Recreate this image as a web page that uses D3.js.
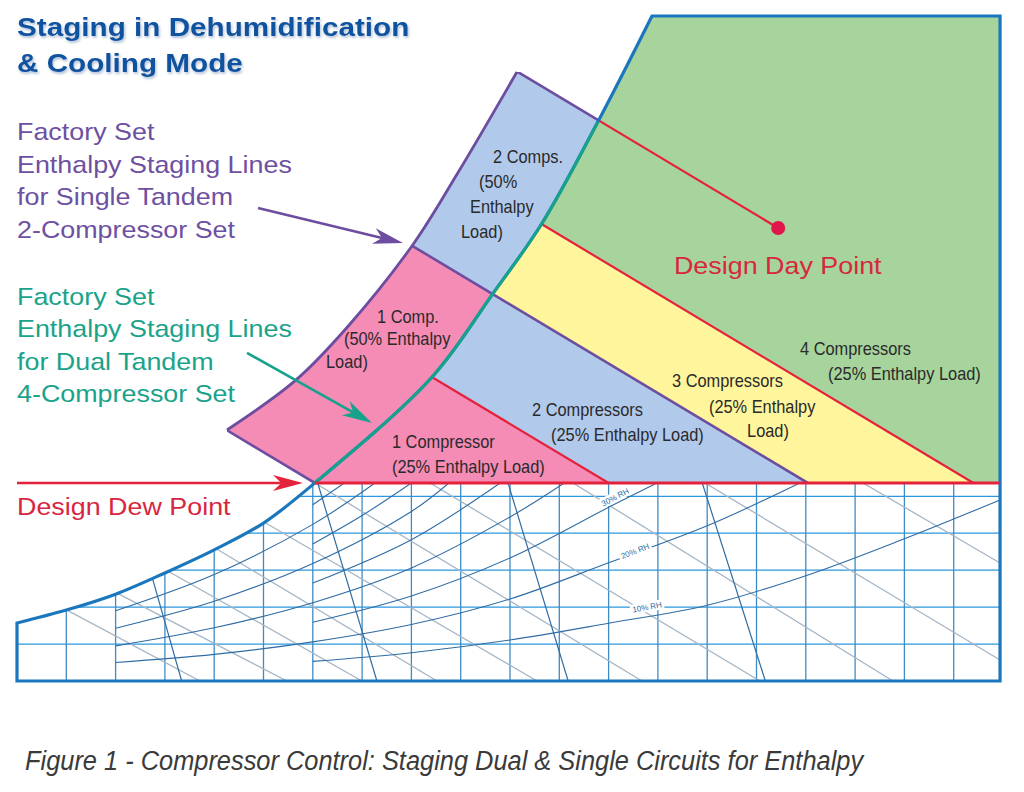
<!DOCTYPE html>
<html>
<head>
<meta charset="utf-8">
<script src="https://cdn.jsdelivr.net/npm/d3@7"></script>
<style>
  body { margin: 0; background: #fff; }
  svg { display: block; }
</style>
</head>
<body>
<div id="chart"></div>
<script>
// --- data: dry bulb (F) vs humidity ratio (grains) ---
const satT = [30, 35, 40, 45, 50, 55, 60.2, 72.1, 78.3, 83.2, 88.9, 94.4];
const satW = [31.4, 38.4, 47, 58.5, 71, 85.5, 107.2, 164.6, 210, 247.4, 302.6, 360];

// single tandem (purple) boundary curve
const purpleT = [51.3, 58.3, 63.6, 70.2, 74.7, 80.7];
const purpleW = [135.9, 163, 192.2, 236.6, 275, 329.7];

const dewT = 60.2, dewW = 107.2;
const tealTopW = 302.6;
const frameRightT = 129.7, frameLeftT = 30, frameTopW = 360;

// enthalpy staging lines, given by dry bulb where they cross the design dew point
const stageT = [60.2, 90, 110.2, 127];
const stageKind = ["purple", "red", "purple", "red"];
const enthalpySlope = -3.2; // grains per F
const designDay = [107.2, 245.2];

const gridTemps = [35, 40, 45, 50, 55, 60, 65, 70, 75, 80, 85, 90, 95, 100, 105, 110, 115, 120, 125];
const gridW = [20, 40, 60, 80, 100];

// wet bulb lines (start -> end)
const wbStartT = [35.07, 40.14, 45.11, 50.08, 55.05, 60.22, 71.89, 86.39, 99.78, 115.8];
const wbStartW = [38.4, 47.6, 60.1, 72, 86.1, 107.2, 107.2, 107.2, 107.2, 107.2];
const wbEndT = [48.56, 57.38, 64.99, 72.6, 82.74, 93.39, 105.35, 118.84, 129.7, 129.7];
const wbEndW = [0, 0, 0, 0, 0, 0, 0, 0, 11.4, 63.9];

// specific volume lines
const volStartT = [43.5, 60.5, 79.8, 99.5];
const volStartW = [60, 107.2, 107.2, 107.2];
const volEndT = [46.7, 66.5, 85.9, 105.9];
const volEndW = [0, 0, 0, 0];

// relative humidity curves
const rhCurves = [
  { rh: 10, T: [60, 70, 80, 90, 100, 110, 120, 129.7], W: [10.6, 15.3, 22.2, 31.3, 41, 57, 77, 98] },
  { rh: 20, T: [40, 50, 60, 70, 80, 90, 100, 109.4], W: [10, 14.4, 21.2, 30.6, 44.4, 64, 84, 107.2] },
  { rh: 30, T: [60, 70, 80, 90, 94.9], W: [31.8, 46, 66.6, 94, 107.2] },
  { rh: 40, T: [40, 50, 60, 70, 80, 85.5], W: [19, 28.8, 42.4, 61.2, 88.8, 107.2] },
  { rh: 50, T: [60, 70, 79], W: [53, 76.5, 107.2] },
  { rh: 60, T: [40, 50, 60, 70, 73.8], W: [28.6, 43.2, 63.6, 91.8, 107.2] },
  { rh: 70, T: [60, 65, 70], W: [74.2, 89.6, 107.2] },
  { rh: 80, T: [40, 50, 60, 66.3], W: [38, 57.6, 84.8, 107.2] },
  { rh: 90, T: [60, 63.2], W: [95.4, 107.2] }
];
const rhLabelText = ["30% RH", "20% RH", "10% RH"];
const rhLabelT = [90.65, 92.68, 93.9];
const rhLabelW = [99.6, 70.4, 40.1];
const rhLabelAngle = [-28, -21, -10];

// zone labels
const zoneLines = [
  ["2 Comps.", 78.28, 280.4], ["(50%", 76.86, 266.9], ["Enthalpy", 75.94, 253.4], ["Load)", 75.03, 239.8],
  ["1 Comp.", 66.51, 193.8], ["(50% Enthalpy", 63.16, 181.9], ["Load)", 61.34, 169.4],
  ["1 Compressor", 68.03, 126.1], ["(25% Enthalpy Load)", 68.03, 112.6],
  ["2 Compressors", 82.23, 143.5], ["(25% Enthalpy Load)", 84.16, 129.9],
  ["3 Compressors", 96.43, 159.2], ["(25% Enthalpy", 100.18, 145.1], ["Load)", 104.04, 132.1],
  ["4 Compressors", 109.41, 176.5], ["(25% Enthalpy Load)", 112.25, 163.0]
];

const titleLines = ["Staging in Dehumidification", "& Cooling Mode"];
const singleText = ["Factory Set", "Enthalpy Staging Lines", "for Single Tandem", "2-Compressor Set"];
const dualText = ["Factory Set", "Enthalpy Staging Lines", "for Dual Tandem", "4-Compressor Set"];
const caption = "Figure 1 - Compressor Control: Staging Dual & Single Circuits for Enthalpy";

const col = {
  pink: "#f48cb6", blue: "#b1c9ea", yellow: "#fff59c", green: "#a7d49c",
  purple: "#6c4d9f", teal: "#17a28b", red: "#e4223c", frame: "#1b77bd",
  hgrid: "#2a97de", vgrid: "#3f8cc4", rh: "#2f6ca4", wb: "#a5b6c6"
};

const x = d3.scaleLinear().domain([30, 130]).range([17, 1003]);
const y = d3.scaleLinear().domain([0, 360]).range([681, 16]);

const svg = d3.select("#chart").append("svg").attr("width", 1024).attr("height", 792);
const defs = svg.append("defs");

const line = d3.line().x(d => x(d[0])).y(d => y(d[1]));
const smooth = d3.line().x(d => x(d[0])).y(d => y(d[1])).curve(d3.curveCatmullRom.alpha(0.5));
const P = (t, w) => x(t) + "," + y(w);

const satPts = satT.map((t, i) => [t, satW[i]]);
const purplePts = purpleT.map((t, i) => [t, purpleW[i]]);

const chartOutline = smooth(satPts) + "L" + P(frameRightT, frameTopW) + "L" + P(frameRightT, 0) +
  "L" + P(frameLeftT, 0) + "Z";
const singleOutline = smooth(purplePts) + "L" + P(frameRightT, purpleW[purpleW.length - 1]) +
  "L" + P(frameRightT, dewW) + "L" + P(purpleT[0], dewW) + "Z";

defs.append("clipPath").attr("id", "chartClip").append("path").attr("d", chartOutline);
defs.append("clipPath").attr("id", "singleClip").append("path").attr("d", singleOutline);
defs.append("clipPath").attr("id", "gridClip").append("rect")
  .attr("x", 0).attr("width", 1024).attr("y", y(dewW)).attr("height", y(0) - y(dewW) + 4);
defs.append("clipPath").attr("id", "tealClip").append("rect")
  .attr("x", 0).attr("width", 1024).attr("y", y(tealTopW)).attr("height", y(dewW) - y(tealTopW));

const shadow = defs.append("filter").attr("id", "shadow").attr("x", "-5%").attr("y", "-20%")
  .attr("width", "110%").attr("height", "150%");
shadow.append("feDropShadow").attr("dx", 1).attr("dy", 2).attr("stdDeviation", 1.2)
  .attr("flood-color", "#6f90b5").attr("flood-opacity", 0.55);

// enthalpy line through (t at dew) up to a high humidity
const hiW = 420;
const tAt = (t0, w) => t0 + (w - dewW) / enthalpySlope;
function band(tA, tB) {
  return "M" + P(tA, dewW) + "L" + P(tAt(tA, hiW), hiW) + "L" + P(tAt(tB, hiW), hiW) + "L" + P(tB, dewW) + "Z";
}
const topT = designDay[0] + (designDay[1] - dewW) / -enthalpySlope;

// single tandem zones
const single = svg.append("g").attr("clip-path", "url(#singleClip)");
single.append("path").attr("d", band(stageT[0], stageT[2])).attr("fill", col.pink);
single.append("path").attr("d", band(stageT[2], topT)).attr("fill", col.blue);
single.append("path").attr("d", line([[topT, dewW], [tAt(topT, hiW), hiW]]))
  .attr("stroke", col.purple).attr("stroke-width", 2.6).attr("fill", "none");

// dual tandem zones
const chart = svg.append("g").attr("clip-path", "url(#chartClip)");
const zoneFill = [col.pink, col.blue, col.yellow, col.green];
const zoneEdges = [stageT[0], stageT[1], stageT[2], stageT[3], 400];
zoneFill.forEach((c, i) => {
  chart.append("path").attr("d", band(zoneEdges[i], zoneEdges[i + 1])).attr("fill", c);
});

// psychrometric grid below dew point
const grid = chart.append("g").attr("clip-path", "url(#gridClip)").attr("fill", "none");
grid.selectAll(".hg").data(gridW).join("path").attr("class", "hg")
  .attr("d", w => line([[frameLeftT, w], [frameRightT, w]]))
  .attr("stroke", col.hgrid).attr("stroke-width", 1.3);
grid.selectAll(".vg").data(gridTemps).join("path").attr("class", "vg")
  .attr("d", t => line([[t, 0], [t, dewW + 2]]))
  .attr("stroke", col.vgrid).attr("stroke-width", 1.3);
grid.selectAll(".wb").data(wbStartT).join("path").attr("class", "wb")
  .attr("d", (t, i) => line([[t, wbStartW[i]], [wbEndT[i], wbEndW[i]]]))
  .attr("stroke", col.wb).attr("stroke-width", 1.3);
grid.selectAll(".vol").data(volStartT).join("path").attr("class", "vol")
  .attr("d", (t, i) => line([[t, volStartW[i]], [volEndT[i], volEndW[i]]]))
  .attr("stroke", col.rh).attr("stroke-width", 1.2);
grid.selectAll(".rh").data(rhCurves).join("path").attr("class", "rh")
  .attr("d", c => smooth(c.T.map((t, i) => [t, c.W[i]])))
  .attr("stroke", col.rh).attr("stroke-width", 1.1);

const rhLab = grid.selectAll(".rhl").data(rhLabelText).join("g").attr("class", "rhl")
  .attr("transform", (d, i) => `translate(${x(rhLabelT[i])},${y(rhLabelW[i])}) rotate(${rhLabelAngle[i]})`);
rhLab.append("rect").attr("x", -17).attr("y", -5).attr("width", 34).attr("height", 10).attr("fill", "#fff");
rhLab.append("text").text(d => d).attr("text-anchor", "middle").attr("dy", 3)
  .attr("font-family", "Liberation Sans, Arial, sans-serif").attr("font-size", 8).attr("fill", col.rh);

// staging lines
stageT.forEach((t, i) => {
  const g = stageKind[i] === "red" ? chart : svg.append("g").attr("clip-path", "url(#singleClip)");
  g.append("path").attr("d", line([[t, dewW], [tAt(t, hiW), hiW]])).attr("fill", "none")
    .attr("stroke", stageKind[i] === "red" ? col.red : col.purple)
    .attr("stroke-width", stageKind[i] === "red" ? 2.2 : 2.6);
});
chart.append("path").attr("d", line([designDay, [tAt(topT, hiW), hiW]])).attr("fill", "none")
  .attr("stroke", col.red).attr("stroke-width", 2.2);

// curves and frame
svg.append("path").attr("d", smooth(purplePts)).attr("fill", "none")
  .attr("stroke", col.purple).attr("stroke-width", 2.8).attr("stroke-linejoin", "round");
svg.append("path").attr("d", chartOutline).attr("fill", "none").attr("stroke", col.frame).attr("stroke-width", 3.2);
svg.append("path").attr("d", smooth(satPts)).attr("clip-path", "url(#tealClip)").attr("fill", "none")
  .attr("stroke", col.teal).attr("stroke-width", 3);
svg.append("path").attr("d", line([[dewT, dewW], [frameRightT, dewW]])).attr("fill", "none")
  .attr("stroke", col.red).attr("stroke-width", 3);

// arrows
function arrow(tail, tip, color, w, len, half) {
  const a = [x(tail[0]), y(tail[1])], b = [x(tip[0]), y(tip[1])];
  const dx = b[0] - a[0], dy = b[1] - a[1], L = Math.hypot(dx, dy), ux = dx / L, uy = dy / L;
  const base = [b[0] - ux * len, b[1] - uy * len], notch = [b[0] - ux * len * 0.72, b[1] - uy * len * 0.72];
  svg.append("line").attr("x1", a[0]).attr("y1", a[1]).attr("x2", notch[0]).attr("y2", notch[1])
    .attr("stroke", color).attr("stroke-width", w);
  svg.append("path").attr("fill", color).attr("d",
    `M${b[0]},${b[1]}L${base[0] - uy * half},${base[1] + ux * half}L${notch[0]},${notch[1]}L${base[0] + uy * half},${base[1] - ux * half}Z`);
}
arrow([frameLeftT, dewW], [59.0, dewW], col.red, 2.6, 30, 8);
arrow([54.44, 256.1], [69.15, 237.1], col.purple, 2.6, 30, 8);
arrow([53.33, 177.6], [66.0, 139.7], col.teal, 2.6, 30, 8);

svg.append("circle").attr("cx", x(designDay[0])).attr("cy", y(designDay[1])).attr("r", 7).attr("fill", "#e0174a");

// text
function txt(px, py, s, size, fill, opts = {}) {
  return svg.append("text").attr("transform", `translate(${px},${py}) scale(${opts.sx || 1.12},1)`)
    .attr("font-family", "Liberation Sans, Arial, Helvetica, sans-serif")
    .attr("font-size", size).attr("font-weight", opts.weight || "normal")
    .attr("font-style", opts.style || "normal").attr("fill", fill).text(s);
}

titleLines.forEach((s, i) => txt(17, 36 + i * 36, s, 26.5, "#0f52a0", { weight: "bold" }).attr("filter", "url(#shadow)"));
singleText.forEach((s, i) => txt(17, 140 + i * 32.7, s, 24, "#6e50a2"));
dualText.forEach((s, i) => txt(17, 305 + i * 32.3, s, 24, "#1aa38a"));
txt(17, 515, "Design Dew Point", 24, "#d8263f");
txt(x(96.63), y(220.3), "Design Day Point", 24, "#d8263f");
zoneLines.forEach(d => txt(x(d[1]), y(d[2]), d[0], 18, "#2a2a2a", { sx: 0.91 }));
txt(25, 770, caption, 28, "#3a3a3a", { style: "italic", sx: 0.907 });
</script>
</body>
</html>
